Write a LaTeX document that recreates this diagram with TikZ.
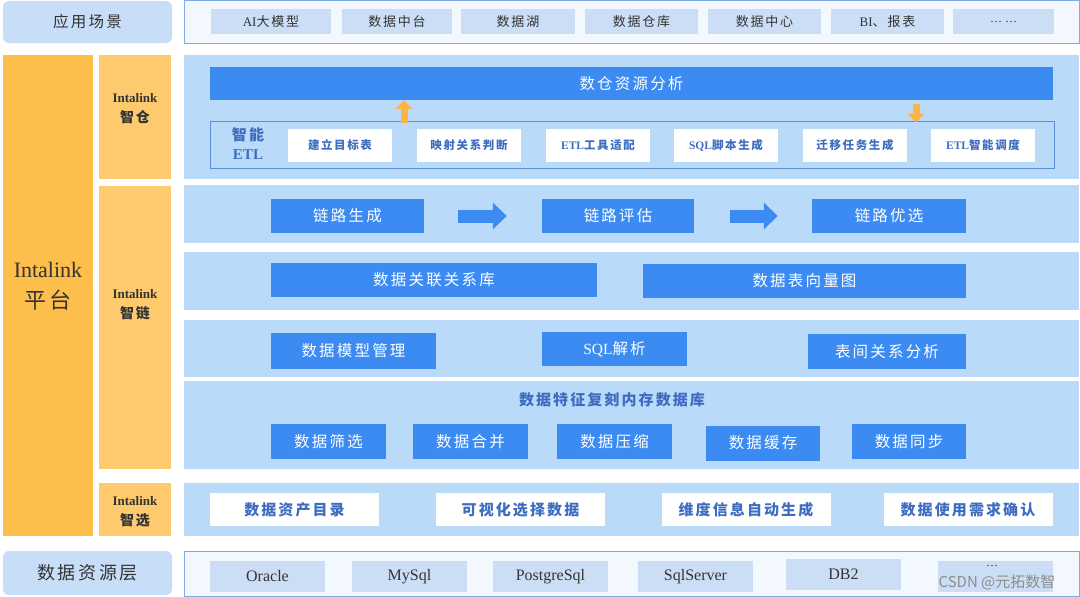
\documentclass[tikz,border=0pt]{standalone}
\usepackage{fontspec}
\setmainfont{Liberation Serif}
\newfontfamily\cjk[LetterSpace=14]{Noto Sans CJK SC}
\newfontfamily\wmfont{Noto Sans CJK SC}
\usetikzlibrary{arrows.meta}
\definecolor{platorange}{HTML}{FDBE4B}
\definecolor{sideorange}{HTML}{FDCB6E}
\definecolor{arroworange}{HTML}{FDB443}
\definecolor{panelblue}{HTML}{BADAFA}
\definecolor{barblue}{HTML}{3B8BF3}
\definecolor{tagblue}{HTML}{CCDEF6}
\definecolor{capblue}{HTML}{C8DEF8}
\definecolor{frameblue}{HTML}{7FAAE3}
\definecolor{framefill}{HTML}{F3F8FE}
\definecolor{etlline}{HTML}{5B8FD6}
\definecolor{inkblue}{HTML}{3E6DBF}
\definecolor{inkdark}{HTML}{333333}
\def\fs#1{\fontsize{#1}{#1}\selectfont}

\tikzset{
  capbox/.style={fill=capblue, rounded corners=6, inner sep=0, text=inkdark},
  sidebox/.style={fill=sideorange, minimum width=72, inner sep=0},
  sidetxt/.style={align=center, text=inkdark, font=\bfseries\fontsize{13}{20}\selectfont},
  panel/.style={fill=panelblue, minimum width=895, inner sep=0},
  frame/.style={draw=frameblue, line width=1pt, fill=framefill, minimum width=895, inner sep=0},
  tag/.style={fill=tagblue, inner sep=0, minimum height=25, text=inkdark, font=\cjk\fs{13}},
  srctag/.style={fill=tagblue, inner sep=0, minimum width=115, minimum height=31, text=inkdark, font=\fs{16}},
  bluebar/.style={fill=barblue, inner sep=0, minimum height=34, text=white, font=\cjk\fs{15.5}},
  etltag/.style={fill=white, inner sep=0, minimum width=104, minimum height=33, text=inkblue, font=\cjk\bfseries\fs{11.5}},
  pick/.style={fill=white, inner sep=0, minimum width=169, minimum height=33, text=inkblue, font=\cjk\bfseries\fs{15}},
  blockarrow/.style={draw=barblue, line width=13pt, -{Triangle[length=14pt,width=26pt]}},
  warmarrow/.style={draw=arroworange, line width=7pt, -{Triangle[length=9pt,width=17pt]}}
}

\begin{document}
\begin{tikzpicture}[x=1pt,y=-1pt]
	%%%%% START %%%%%
	\useasboundingbox[fill=white] (0,0) rectangle (1080,597);

	% left column
	\node[capbox, minimum width=169, minimum height=42] (scene) at (87.5,22) {\cjk\fs{15.5}应用场景};
	\node[fill=platorange, minimum width=90, minimum height=481, inner sep=0] (plat) at (48,295.5) {};
	\node[align=center, text=inkdark, font=\fontsize{22}{31}\selectfont] (plattxt) at (48,286) {Intalink\\{\cjk 平台}};
	\node[sidebox, minimum height=124] (sidecang) at (135,117) {};
	\node[sidetxt] (cangtxt) at (135,109) {Intalink\\{\cjk\fs{14}智仓}};
	\node[sidebox, minimum height=283] (sidelian) at (135,327.5) {};
	\node[sidetxt] (liantxt) at (135,305) {Intalink\\{\cjk\fs{14}智链}};
	\node[sidebox, minimum height=53] (sidexuan) at (135,509.5) {};
	\node[sidetxt] (xuantxt) at (135,512) {Intalink\\{\cjk\fs{14}智选}};
	\node[capbox, minimum width=169, minimum height=44] (source) at (87.5,573) {\cjk\fs{18}数据资源层};

	% scenes
	\node[frame, minimum height=43] (sceneframe) at (631.5,22) {};
	\node[tag, minimum width=120] (ai) at (271,21.5) {{\rmfamily AI}大模型};
	\node[tag, minimum width=110] (zt) at (397,21.5) {数据中台};
	\node[tag, minimum width=114] (lake) at (518,21.5) {数据湖};
	\node[tag, minimum width=113] (dw) at (641.5,21.5) {数据仓库};
	\node[tag, minimum width=113] (dc) at (764.5,21.5) {数据中心};
	\node[tag, minimum width=113] (bi) at (887.5,21.5) {{\rmfamily BI}、报表};
	\node[tag, minimum width=101, font=\fs{12}] (more) at (1003.5,21.5) {… …};

	% zhicang
	\node[panel, minimum height=124] (pcang) at (631.5,117) {};
	\node[bluebar, minimum width=843, minimum height=33] (analyse) at (631.5,83.5) {数仓资源分析};
	\node[draw=etlline, line width=1pt, inner sep=0, minimum width=844, minimum height=47] (etl) at (632,144.5) {};
	\node[align=center, text=inkblue, font=\bfseries\fontsize{15}{19}\selectfont] (etltitle) at (248,144) {{\cjk 智能}\\ETL};
	\node[etltag] (e1) at (340,145.5) {建立目标表};
	\node[etltag] (e2) at (469,145.5) {映射关系判断};
	\node[etltag] (e3) at (598,145.5) {{\rmfamily ETL}工具适配};
	\node[etltag] (e4) at (726,145.5) {{\rmfamily SQL}脚本生成};
	\node[etltag] (e5) at (855,145.5) {迁移任务生成};
	\node[etltag] (e6) at (983,145.5) {{\rmfamily ETL}智能调度};
	\coordinate (upx) at (404,0);
	\coordinate (downx) at (916,0);
	\draw[warmarrow] ([yshift=-2]etl.north -| upx) -- (analyse.south -| upx);
	\draw[warmarrow] ([yshift=-4]analyse.south -| downx) -- ([yshift=-2]etl.north -| downx);

	% zhilian
	\node[panel, minimum height=58] (prow1) at (631.5,214) {};
	\node[bluebar, minimum width=153] (gen) at (347.5,216) {链路生成};
	\node[bluebar, minimum width=152] (eval) at (618,216) {链路评估};
	\node[bluebar, minimum width=154] (best) at (889,216) {链路优选};
	\draw[blockarrow] ([xshift=34]gen.east) -- ([xshift=-35]eval.west);
	\draw[blockarrow] ([xshift=36]eval.east) -- ([xshift=-34]best.west);

	\node[panel, minimum height=58] (prow2) at (631.5,281) {};
	\node[bluebar, minimum width=326] (relbase) at (434,280) {数据关联关系库};
	\node[bluebar, minimum width=323] (vecmap) at (804.5,281) {数据表向量图};

	\node[panel, minimum height=57] (prow3) at (631.5,348.5) {};
	\node[bluebar, minimum width=165, minimum height=36] (model) at (353.5,351) {数据模型管理};
	\node[bluebar, minimum width=145] (sqlparse) at (614.5,349) {{\rmfamily SQL}解析};
	\node[bluebar, minimum width=158, minimum height=35] (tabrel) at (887,351.5) {表间关系分析};

	\node[panel, minimum height=88] (prow4) at (631.5,425) {};
	\node[text=inkblue, font=\cjk\bfseries\fs{15}] (memdb) at (612,400) {数据特征复刻内存数据库};
	\node[bluebar, minimum width=115, minimum height=35] (filt) at (328.5,441.5) {数据筛选};
	\node[bluebar, minimum width=115, minimum height=35] (merge) at (470.5,441.5) {数据合并};
	\node[bluebar, minimum width=115, minimum height=35] (zip) at (614.5,441.5) {数据压缩};
	\node[bluebar, minimum width=114, minimum height=35] (cache) at (763,443) {数据缓存};
	\node[bluebar, minimum width=114, minimum height=35] (sync) at (909,441.5) {数据同步};

	% zhixuan
	\node[panel, minimum height=53] (pxuan) at (631.5,509.5) {};
	\node[pick] (catalog) at (294.5,509.5) {数据资产目录};
	\node[pick] (visual) at (520.5,509.5) {可视化选择数据};
	\node[pick] (dims) at (746,509.5) {维度信息自动生成};
	\node[pick] (needs) at (968,509.5) {数据使用需求确认};

	% data sources
	\node[frame, minimum height=45] (srcframe) at (631.5,573.5) {};
	\node[srctag] (oracle) at (267.5,576.5) {Oracle};
	\node[srctag] (mysql) at (409.5,576.5) {MySql};
	\node[srctag] (pg) at (550.5,576.5) {PostgreSql};
	\node[srctag] (mssql) at (695.5,576.5) {SqlServer};
	\node[srctag] (db2) at (843.5,574.5) {DB2};
	\node[srctag] (etc) at (995.5,576.5) {};
	\node[text=inkdark, font=\fs{12}, inner sep=1] (etcdots) at (992,566) {…};

	\node[text=black!45, font=\wmfont\fs{15}] (wmark) at (997,582) {CSDN @元拓数智};
	%%%%% END %%%%%
\end{tikzpicture}
\end{document}
